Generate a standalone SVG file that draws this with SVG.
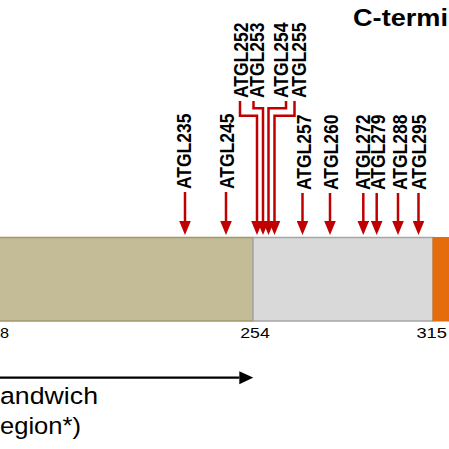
<svg xmlns="http://www.w3.org/2000/svg" width="449" height="449" viewBox="0 0 449 449">
<style>
.lbl{font-family:"Liberation Sans",Arial,sans-serif;font-weight:bold;font-size:17.5px;fill:#000}
.num{font-family:"Liberation Sans",Arial,sans-serif;font-size:15.5px;fill:#000}
.big{font-family:"Liberation Sans",Arial,sans-serif;font-size:24.5px;fill:#000}
.red{stroke:#C00000;stroke-width:2.5;fill:none}
</style>
<defs>
<marker id="rh" viewBox="0 -6 14 12" refX="0" refY="0" markerWidth="14" markerHeight="12" markerUnits="userSpaceOnUse" orient="auto">
<path d="M0,-5.8 L14,0 L0,5.8 z" fill="#C00000"/>
</marker>
<marker id="bh" viewBox="0 -7 14 14" refX="0" refY="0" markerWidth="14" markerHeight="14" markerUnits="userSpaceOnUse" orient="auto">
<path d="M0,-6.5 L14,0 L0,6.5 z" fill="#000"/>
</marker>
</defs>
<rect width="449" height="449" fill="#fff"/>
<g id="domain-bar">
<rect x="-2" y="237.5" width="255" height="83.5" fill="#C4BC96" stroke="#A0976B" stroke-width="1.5"/>
<rect x="253" y="237.5" width="180" height="83.5" fill="#D9D9D9" stroke="#A6A6A6" stroke-width="1.5"/>
<rect x="433" y="237.5" width="18" height="83.5" fill="#E46C0A" stroke="#E46C0A" stroke-width="1"/>
</g>
<g id="positions">
<text class="num" x="4.5" y="338.3" text-anchor="middle" textLength="9" lengthAdjust="spacingAndGlyphs">8</text>
<text class="num" x="255" y="338.3" text-anchor="middle" textLength="29.5" lengthAdjust="spacingAndGlyphs">254</text>
<text class="num" x="431.7" y="338.3" text-anchor="middle" textLength="30.5" lengthAdjust="spacingAndGlyphs">315</text>
</g>
<g id="title">
<text x="353" y="25.5" font-family="Liberation Sans, Arial, sans-serif" font-weight="bold" font-size="23" textLength="95" lengthAdjust="spacingAndGlyphs">C-termi</text>
</g>
<g id="region-label">
<text class="big" x="0" y="404" textLength="98" lengthAdjust="spacingAndGlyphs">andwich</text>
<text class="big" x="0" y="434" textLength="81" lengthAdjust="spacingAndGlyphs">egion*)</text>
</g>
<g id="connectors">
<line x1="0" y1="377.7" x2="239.3" y2="377.7" stroke="#000" stroke-width="2.2" marker-end="url(#bh)"/>
<line class="red" x1="185" y1="192" x2="185" y2="221" marker-end="url(#rh)"/>
<line class="red" x1="226" y1="192" x2="226" y2="221" marker-end="url(#rh)"/>
<line class="red" x1="302.5" y1="193" x2="302.5" y2="221" marker-end="url(#rh)"/>
<line class="red" x1="330" y1="193" x2="330" y2="221" marker-end="url(#rh)"/>
<line class="red" x1="363.3" y1="193" x2="363.3" y2="221" marker-end="url(#rh)"/>
<line class="red" x1="376.7" y1="193" x2="376.7" y2="221" marker-end="url(#rh)"/>
<line class="red" x1="398" y1="193" x2="398" y2="221" marker-end="url(#rh)"/>
<line class="red" x1="418.5" y1="193" x2="418.5" y2="221" marker-end="url(#rh)"/>
<path class="red" d="M240,101 V115.7 H257 V221" marker-end="url(#rh)"/>
<path class="red" d="M253.5,101 V108.3 H263 V221" marker-end="url(#rh)"/>
<path class="red" d="M286,101 V108.3 H268.5 V221" marker-end="url(#rh)"/>
<path class="red" d="M294.5,101 V115.7 H274.5 V221" marker-end="url(#rh)"/>
</g>
<g id="ATGL235"><text class="lbl" transform="translate(191.1,189) rotate(-90) scale(1,1.15)">ATGL235</text></g>
<g id="ATGL245"><text class="lbl" transform="translate(233.8,189) rotate(-90) scale(1,1.15)">ATGL245</text></g>
<g id="ATGL252"><text class="lbl" transform="translate(247.6,98) rotate(-90) scale(1,1.15)">ATGL252</text></g>
<g id="ATGL253"><text class="lbl" transform="translate(263.6,98) rotate(-90) scale(1,1.15)">ATGL253</text></g>
<g id="ATGL254"><text class="lbl" transform="translate(288.1,98) rotate(-90) scale(1,1.15)">ATGL254</text></g>
<g id="ATGL255"><text class="lbl" transform="translate(305.6,98) rotate(-90) scale(1,1.15)">ATGL255</text></g>
<g id="ATGL257"><text class="lbl" transform="translate(311.1,190) rotate(-90) scale(1,1.15)">ATGL257</text></g>
<g id="ATGL260"><text class="lbl" transform="translate(337.6,190) rotate(-90) scale(1,1.15)">ATGL260</text></g>
<g id="ATGL272"><text class="lbl" transform="translate(370.1,190) rotate(-90) scale(1,1.15)">ATGL272</text></g>
<g id="ATGL279"><text class="lbl" transform="translate(385.1,190) rotate(-90) scale(1,1.15)">ATGL279</text></g>
<g id="ATGL288"><text class="lbl" transform="translate(407.1,190) rotate(-90) scale(1,1.15)">ATGL288</text></g>
<g id="ATGL295"><text class="lbl" transform="translate(426.1,190) rotate(-90) scale(1,1.15)">ATGL295</text></g>
</svg>
